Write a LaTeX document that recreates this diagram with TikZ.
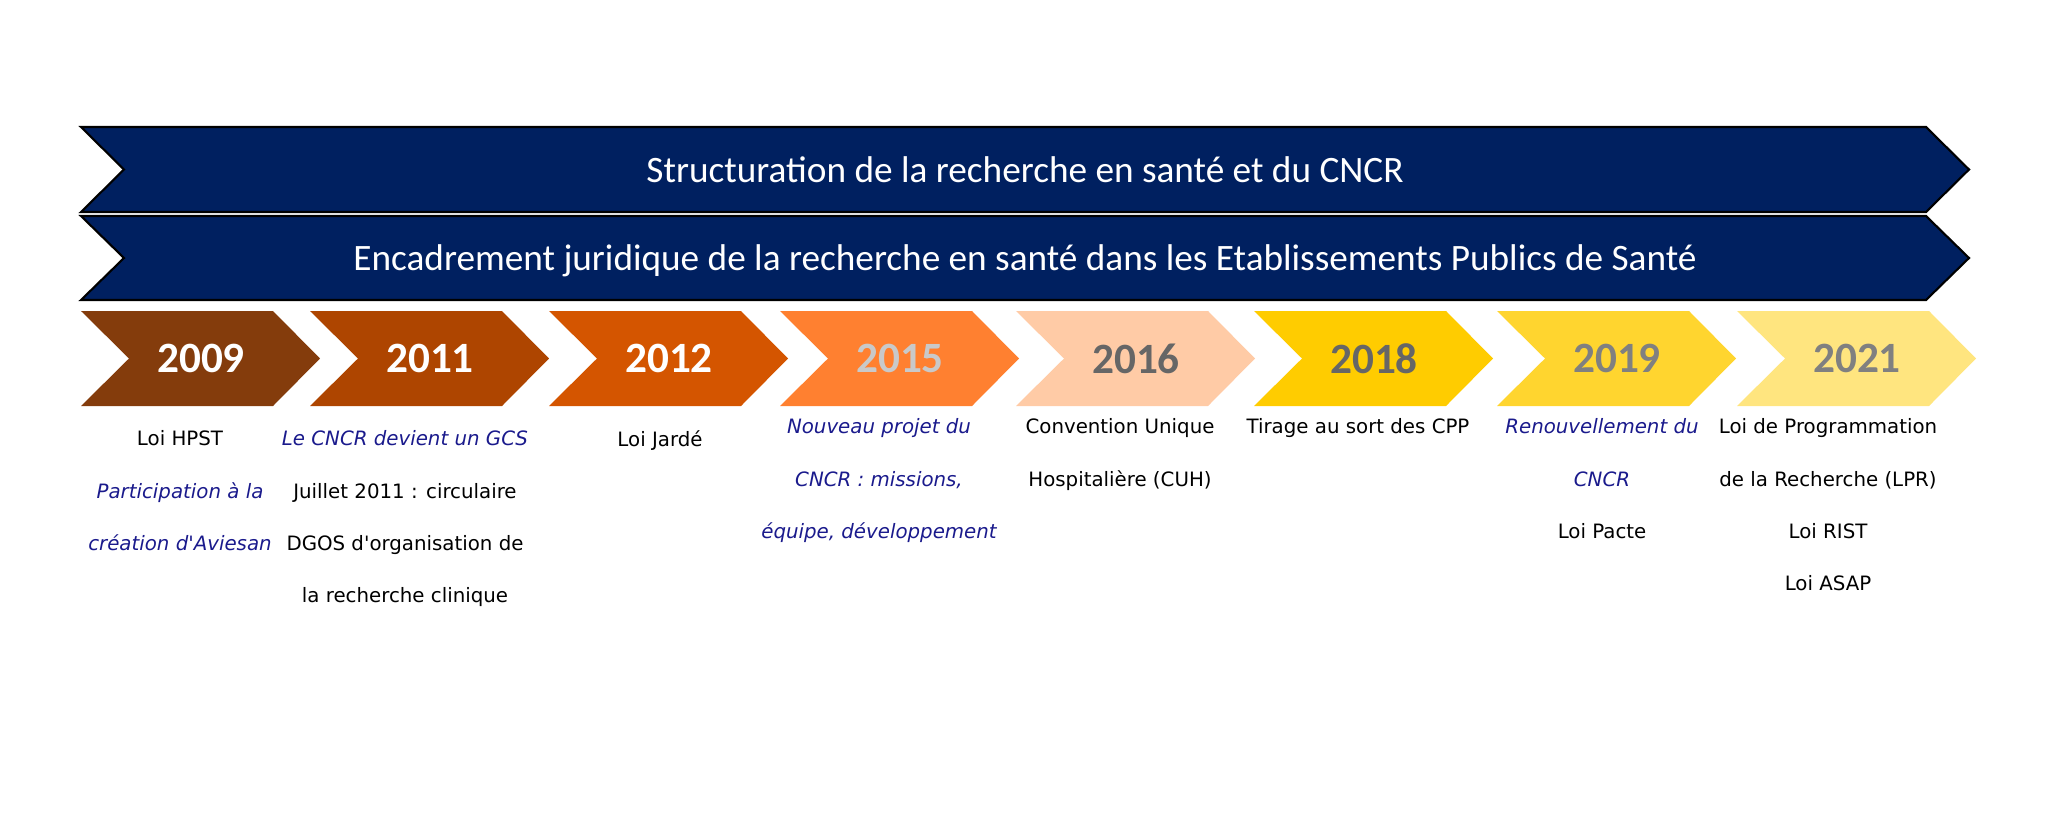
\documentclass[tikz,border=0pt]{standalone}
\usepackage{fontspec}
\setmainfont{DejaVu Sans}
\newfontfamily\calibri{Carlito}
\definecolor{marine}{HTML}{002060}
\definecolor{bleu}{RGB}{26,26,140}
\definecolor{c2009}{HTML}{843C0C}
\definecolor{c2011}{HTML}{AE4500}
\definecolor{c2012}{HTML}{D45500}
\definecolor{c2015}{HTML}{FF8030}
\definecolor{c2016}{HTML}{FFCBA6}
\definecolor{c2018}{HTML}{FFCC00}
\definecolor{c2019}{HTML}{FFD52F}
\definecolor{c2021}{HTML}{FFE57F}
\newcommand\bleuit[1]{\textcolor{bleu}{\itshape #1}}
\tikzset{
	bande/.style={fill=marine,draw=black,line width=0.6pt},
	bandetexte/.style={text=white,font=\calibri\fontsize{10.6}{12}\selectfont},
	annee/.style={font=\calibri\bfseries\fontsize{12.3}{14}\selectfont},
	evenement/.style={anchor=north,inner sep=0pt,align=center,font=\fontsize{5.63}{14.9}\selectfont}
}

\begin{document}
\begin{tikzpicture}[x=0.1mm,y=-0.1mm]
	\useasboundingbox (0,0) rectangle (2048,813);
	\draw[bande] (81,127) -- (1926,127) -- (1969,169.5) -- (1926,212) -- (81,212) -- (124,169.5) -- cycle;
	\draw[bande] (81,216) -- (1926,216) -- (1969,258) -- (1926,300) -- (81,300) -- (124,258) -- cycle;
	\node[bandetexte] (structuration) at (1025,169.5) {Structuration de la recherche en santé et du CNCR};
	\node[bandetexte] (encadrement) at (1025,260.5) {Encadrement juridique de la recherche en santé dans les Etablissements Publics de Santé};
	\foreach \x/\an/\t in {81/2009/white, 310/2011/white, 549/2012/white, 780/2015/black!21, 1016/2016/black!60, 1254/2018/black!60, 1497/2019/black!50, 1737/2021/black!50}{
		\fill[c\an] (\x,311) -- (\x+192,311) -- (\x+239,358.5) -- (\x+192,406) -- (\x,406) -- (\x+48,358.5) -- cycle;
		\node[annee,text=\t] (an\an) at (\x+120,358.5) {\an};
		}
	\node[evenement] (ev2009) at (180,430) {Loi HPST\\ \bleuit{Participation à la}\\ \bleuit{création d\textquotesingle Aviesan}};
	\node[evenement] (ev2011) at (405,430) {\bleuit{Le CNCR devient un GCS}\\ Juillet 2011 : circulaire\\ DGOS d\textquotesingle organisation de\\ la recherche clinique};
	\node[evenement] (ev2012) at (660,430) {Loi Jardé};
	\node[evenement] (ev2015) at (879,418) {\bleuit{Nouveau projet du}\\ \bleuit{CNCR : missions,}\\ \bleuit{équipe, développement}};
	\node[evenement] (ev2016) at (1120,418) {Convention Unique\\ Hospitalière (CUH)};
	\node[evenement] (ev2018) at (1358,418) {Tirage au sort des CPP};
	\node[evenement] (ev2019) at (1602,418) {\bleuit{Renouvellement du}\\ \bleuit{CNCR}\\ Loi Pacte};
	\node[evenement] (ev2021) at (1828,418) {Loi de Programmation\\ de la Recherche (LPR)\\ Loi RIST\\ Loi ASAP};
\end{tikzpicture}
\end{document}
